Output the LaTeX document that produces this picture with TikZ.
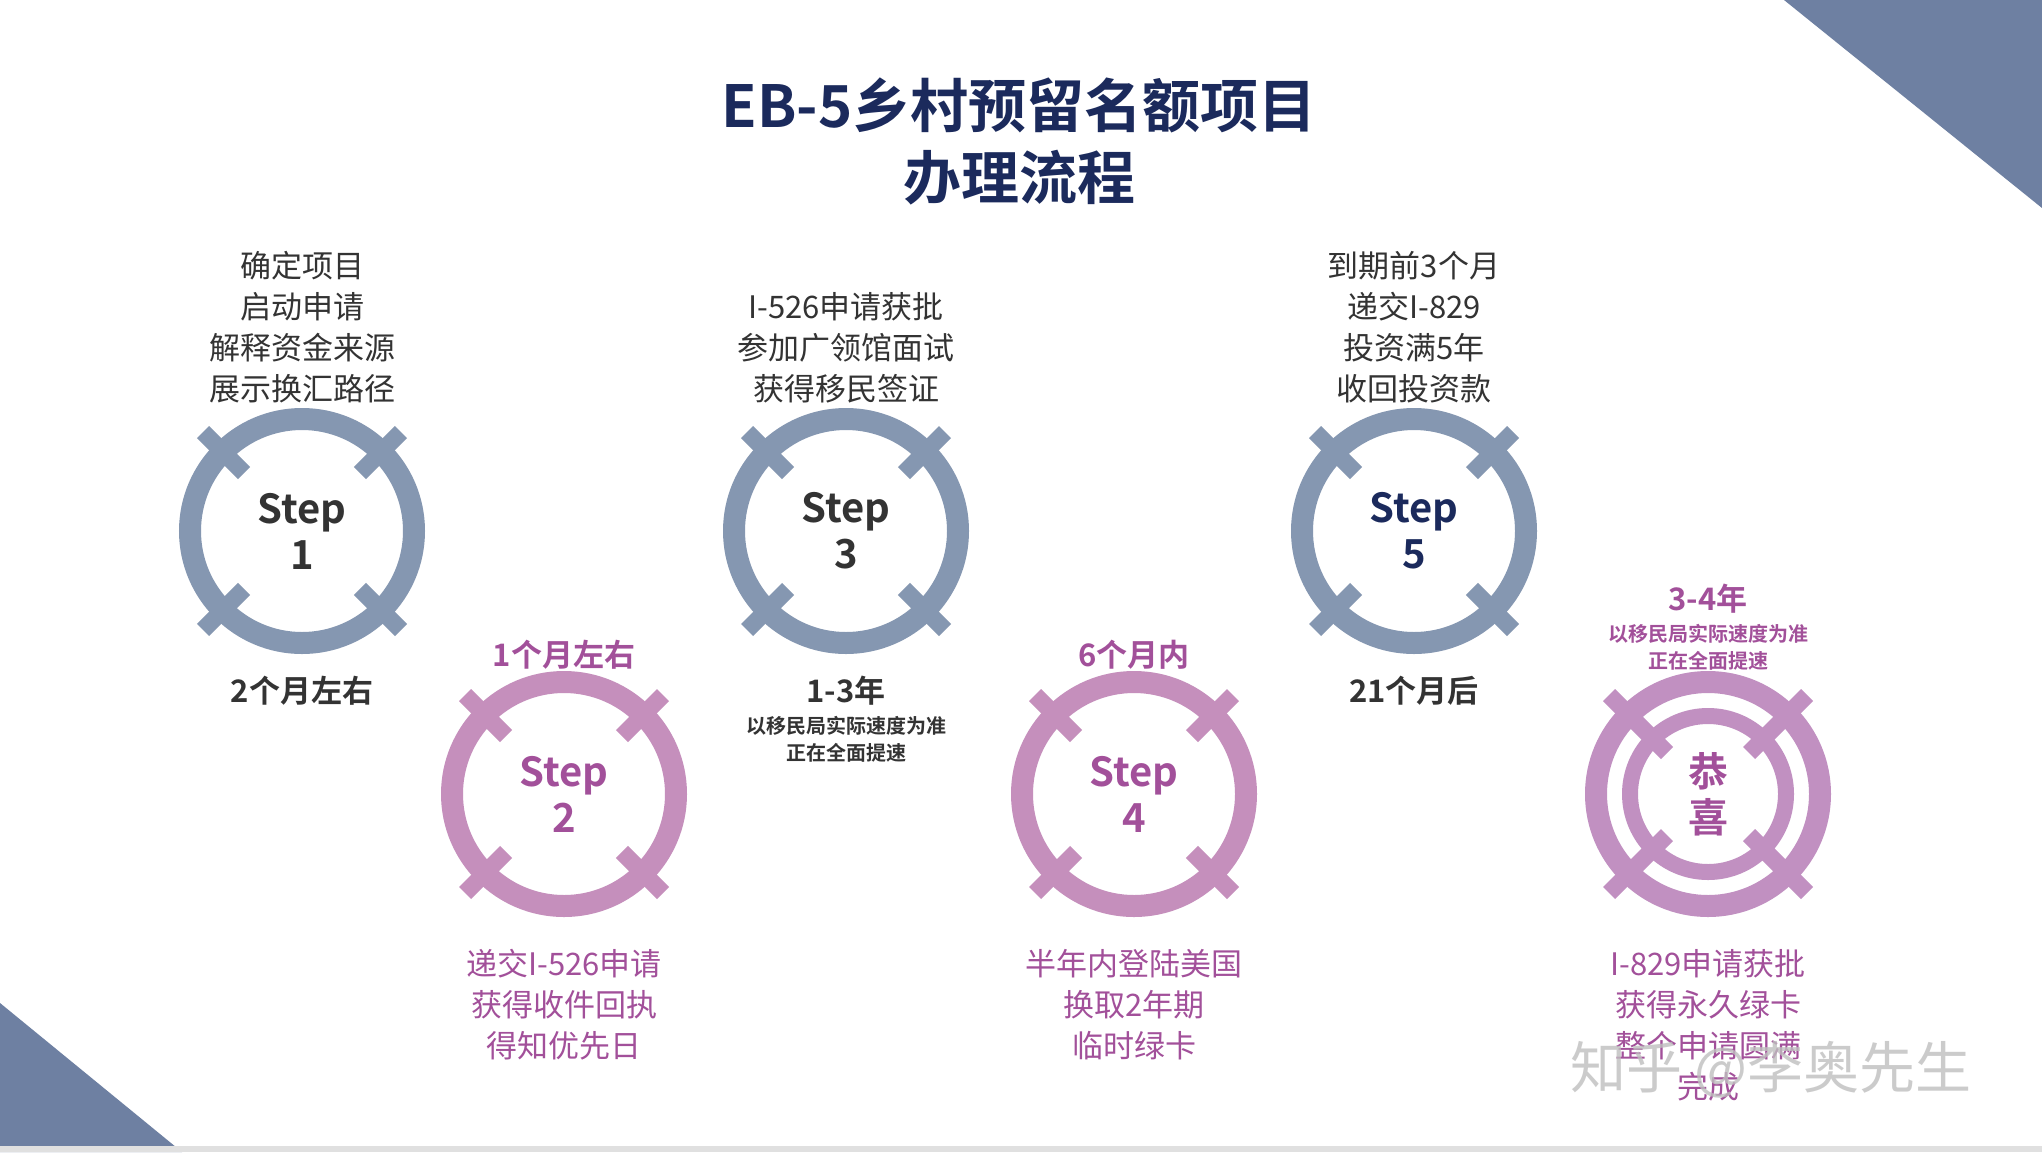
\documentclass[tikz,border=0pt]{standalone}
\usepackage{fontspec}
\setmainfont{Noto Sans CJK SC}
\newfontfamily\cjkbold{Noto Sans CJK SC Bold}
\definecolor{navy}{HTML}{1B2A5C}
\definecolor{ringblue}{HTML}{8597B1}
\definecolor{ringpink}{HTML}{C58FBC}
\definecolor{ringlilac}{HTML}{C190C1}
\definecolor{txtpurple}{HTML}{A2509A}
\definecolor{txtdark}{HTML}{333333}
\definecolor{corner}{HTML}{6E80A2}
\begin{document}
\begin{tikzpicture}[x=1pt,y=1pt,
  ring/.style={circle,draw=#1,line width=22pt,minimum size=224pt,inner sep=0pt,align=center,
    font=\cjkbold\fontsize{40}{46}\selectfont},
  toptext/.style={align=center,text=txtdark,font=\fontsize{31}{41}\selectfont},
  bottext/.style={align=center,text=txtpurple,font=\fontsize{31}{41}\selectfont},
  durdark/.style={align=center,text=txtdark,font=\cjkbold\fontsize{31}{36}\selectfont},
  durpurple/.style={align=center,text=txtpurple,font=\cjkbold\fontsize{31}{36}\selectfont},
  smallnote/.style={align=center,font=\cjkbold\fontsize{20}{27}\selectfont}]
\useasboundingbox (0,0) rectangle (2042,-1152);
\fill[white] (0,0) rectangle (2042,-1152);
% corners
\fill[corner] (1784,0) -- (2042,0) -- (2042,-208) -- cycle;
\fill[corner] (0,-1003) -- (182,-1152) -- (0,-1152) -- cycle;
\fill[black!12] (0,-1146) rectangle (2042,-1152);
% title
\node[text=navy,font=\cjkbold\fontsize{58}{72}\selectfont,align=center] (title) at (1019,-141) {EB-5乡村预留名额项目\\办理流程};
% rings
\node[ring=ringblue,text=txtdark] (s1) at (302,-531) {Step\\1};
\node[ring=ringpink,text=txtpurple] (s2) at (564,-794) {Step\\2};
\node[ring=ringblue,text=txtdark] (s3) at (846,-531) {Step\\3};
\node[ring=ringpink,text=txtpurple] (s4) at (1134,-794) {Step\\4};
\node[ring=ringblue,text=navy] (s5) at (1414,-531) {Step\\5};
\foreach \n/\c in {s1/ringblue,s2/ringpink,s3/ringblue,s4/ringpink,s5/ringblue}
  \foreach \a in {45,135,225,315}
    \draw[\c,line width=17pt] ([shift={(\a:82)}]\n.center) -- ([shift={(\a:140)}]\n.center);
\node[ring=ringlilac,text=txtpurple] (s6) at (1708,-794) {恭\\喜};
\draw[ringlilac,line width=16pt] (s6.center) circle (78);
\foreach \a in {45,135,225,315}
  \draw[ringlilac,line width=17pt] ([shift={(\a:58)}]s6.center) -- ([shift={(\a:140)}]s6.center);
% top texts
\node[toptext] (t1) at (302,-327) {确定项目\\启动申请\\解释资金来源\\展示换汇路径};
\node[toptext] (t3) at (846,-348) {I-526申请获批\\参加广领馆面试\\获得移民签证};
\node[toptext] (t5) at (1414,-327) {到期前3个月\\递交I-829\\投资满5年\\收回投资款};
% durations
\node[durdark] (d1) at (302,-691) {2个月左右};
\node[durpurple] (d2) at (564,-655) {1个月左右};
\node[durdark] (d3) at (846,-691) {1-3年};
\node[smallnote,text=txtdark] (n3) at (846,-739) {以移民局实际速度为准\\正在全面提速};
\node[durpurple] (d4) at (1134,-655) {6个月内};
\node[durdark] (d5) at (1414,-691) {21个月后};
\node[durpurple] (d6) at (1708,-599) {3-4年};
\node[smallnote,text=txtpurple] (n6) at (1708,-647) {以移民局实际速度为准\\正在全面提速};
% bottom texts
\node[bottext] (b2) at (564,-1005) {递交I-526申请\\获得收件回执\\得知优先日};
\node[bottext] (b4) at (1134,-1005) {半年内登陆美国\\换取2年期\\临时绿卡};
\node[bottext] (b6) at (1708,-1025) {I-829申请获批\\获得永久绿卡\\整个申请圆满\\完成};
% watermark
\node[text=black!25,opacity=0.8,font=\fontsize{56}{60}\selectfont] (wm) at (1771,-1070) {知乎 @李奥先生};
\end{tikzpicture}
\end{document}
